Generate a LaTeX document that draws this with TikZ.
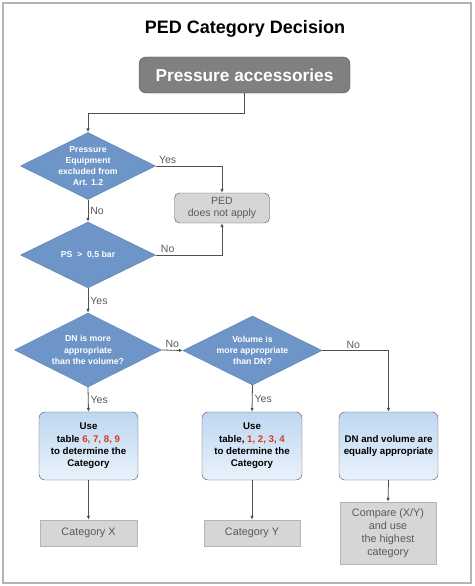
\documentclass[tikz,border=0pt]{standalone}
\usepackage{fontspec}
\setmainfont{Liberation Sans}
\usetikzlibrary{shapes.geometric,arrows.meta}

\definecolor{decblue}{HTML}{6D95C8}
\definecolor{decline}{HTML}{5A80B2}
\definecolor{linegray}{HTML}{505050}
\definecolor{textgray}{HTML}{5A5A5A}
\definecolor{catgray}{HTML}{D6D6D6}
\definecolor{numred}{HTML}{D8392C}
\definecolor{boxtop}{HTML}{BED7F1}
\definecolor{boxbottom}{HTML}{E9F2FB}
\definecolor{framegray}{HTML}{B4B4B4}

\begin{document}
\begin{tikzpicture}[x=1pt,y=-1pt]
	\tikzstyle{dec}=[draw=decline,fill=decblue,shape=diamond,inner sep=0pt]
	\tikzstyle{dectext}=[text=white,font=\fontsize{8.7}{11.3}\selectfont\bfseries,align=center,inner sep=0pt]
	\tikzstyle{usebox}=[draw=linegray,rounded corners=6pt,top color=boxtop,bottom color=boxbottom,minimum width=99pt,minimum height=68pt,align=center,font=\fontsize{9.7}{12.3}\selectfont\bfseries,inner sep=0pt]
	\tikzstyle{catbox}=[draw=framegray,fill=catgray,text=textgray,minimum width=97pt,align=center,font=\fontsize{10.8}{13}\selectfont,inner sep=0pt]
	\tikzstyle{arr}=[draw=linegray,line width=0.8pt,-{Latex[length=4pt,width=3.5pt]}]
	\tikzstyle{lbl}=[text=textgray,font=\fontsize{10.5}{12}\selectfont,inner sep=2pt]

	\useasboundingbox (0,0) rectangle (474,586);
	\draw[framegray,line width=2.5pt] (3,3) rectangle (471,583);

	\node[font=\fontsize{18}{20}\selectfont\bfseries](title) at (245,29){PED Category Decision};
	\node[draw=linegray,fill=gray!100!white,rounded corners=7pt,minimum width=211pt,minimum height=36pt,text=white,font=\fontsize{17.3}{20}\selectfont\bfseries](acc) at (244.5,75){Pressure accessories};

	\node[dec,minimum width=135pt,minimum height=67pt,label={[dectext]center:{Pressure\\Equipment\\excluded from\\Art. 1.2}}](q1) at (88,166){};
	\node[draw=linegray,fill=catgray,rounded corners=5pt,minimum width=95pt,minimum height=30pt,text=textgray,align=center,font=\fontsize{10.5}{12}\selectfont,inner sep=0pt](ped) at (222,208){PED\\does not apply};
	\node[dec,minimum width=135pt,minimum height=66pt,label={[dectext]center:{PS\ \ >\ \ 0,5 bar}}](q2) at (88,255){};
	\node[dec,minimum width=147pt,minimum height=74pt,label={[dectext]center:{DN is more\\appropriate\\than the volume?}}](q3) at (88,350){};
	\node[dec,minimum width=139pt,minimum height=69pt,label={[dectext]center:{Volume is\\more appropriate\\than DN?}}](q4) at (252.5,350.5){};

	\node[usebox](b1) at (88.5,446){Use\\table \textcolor{numred}{6, 7, 8, 9}\\to determine the\\Category};
	\node[usebox,minimum width=100pt](b2) at (252,446){Use\\table, \textcolor{numred}{1, 2, 3, 4}\\to determine the\\Category};
	\node[usebox](b3) at (388.5,446){DN and volume are\\equally appropriate};

	\node[catbox,minimum height=26pt](cx) at (88.5,533){Category X};
	\node[catbox,minimum width=96pt,minimum height=26pt](cy) at (252,533){Category Y};
	\node[catbox,minimum width=96pt,minimum height=62pt](cmp) at (388,533){Compare (X/Y)\\and use\\the highest\\category};

	\draw[arr] (acc.south) -- ++(0,20) -| (q1.north);
	\draw[arr] (q1.east) -| node[lbl,pos=0.09,above]{Yes} (ped.north);
	\draw[arr] (q1.south) -- (q2.north) node[lbl,midway,right]{No};
	\draw[arr] (q2.east) -| node[lbl,pos=0.09,above]{No} (ped.south);
	\draw[arr] (q2.south) -- (q3.north) node[lbl,midway,right]{Yes};
	\draw[arr] (q3.east) -- (q4.west) node[lbl,midway,above]{No};
	\draw[arr] (q4.east) -| node[lbl,pos=0.235,above]{No} (b3.north);
	\draw[arr] (q3.south) -- (b1.north) node[lbl,midway,right]{Yes};
	\draw[arr] (q4.south) -- (b2.north) node[lbl,midway,right]{Yes};

	\draw[arr] (b1.south) -- (cx.north);
	\draw[arr] (b2.south) -- (cy.north);
	\draw[arr] (b3.south) -- (cmp.north);

\end{tikzpicture}
\end{document}
